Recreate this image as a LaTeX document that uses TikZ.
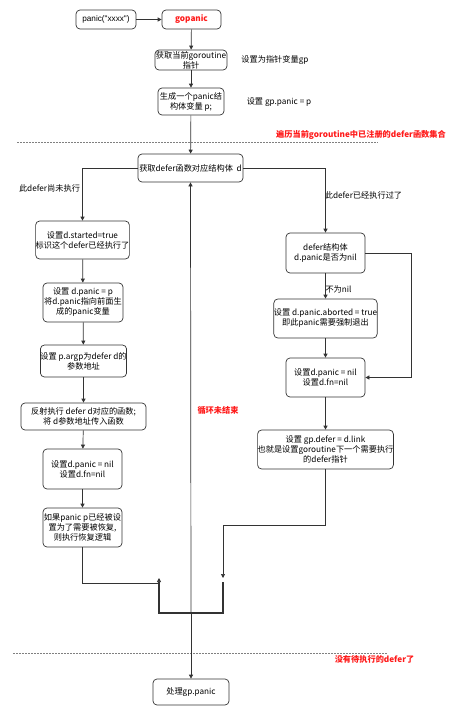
\documentclass[tikz,border=0pt]{standalone}
\usepackage{fontspec}
\setmainfont{Noto Sans CJK SC}
\newfontfamily\latinfont{Liberation Sans}
\usetikzlibrary{arrows.meta}
\definecolor{linegray}{HTML}{333333}
\definecolor{notered}{HTML}{FF1A1A}

\begin{document}
\begin{tikzpicture}[x=1pt,y=-1pt,
    font=\fontsize{8.2}{10}\selectfont,
    box/.style={draw=linegray, line width=0.7pt, rounded corners=4pt, align=center, inner sep=0pt},
    arrow/.style={draw=linegray, line width=0.7pt, -{Triangle[length=4pt,width=4pt]}},
    note/.style={text=notered, font=\fontsize{8.2}{10}\selectfont\bfseries},
    sep/.style={draw=gray, dash pattern=on 1.5pt off 1.5pt}]
            \useasboundingbox (0,0) rectangle (474,716);

            \node[box, minimum width=60, minimum height=19] (panic) at (106,19.5) {\latinfont panic(\symbol{34}xxxx\symbol{34})};
            \node[box, minimum width=59, minimum height=19] (gopanic) at (191.5,19.5) {\textcolor{notered}{\bfseries gopanic}};
            \node[box, minimum width=72, minimum height=20] (getgp) at (191,60) {获取当前goroutine\\指针};
            \node[box, minimum width=66, minimum height=27] (newp) at (191,101.5) {生成一个panic结\\构体变量 p;};
            \node (gpnote) at (275,60) {设置为指针变量gp};
            \node (pnote) at (279,102) {设置 gp.panic = p};

            % loop over the defer list
            \draw[sep] (17,142) -- (378,142);
            \node[note] (loopnote) at (361,135) {遍历当前goroutine中已注册的defer函数集合};
            \node[box, minimum width=105, minimum height=28] (getd) at (190.5,168) {获取defer函数对应结构体\ \ d};

            % left: defer not run yet
            \node (leftnote) at (49.5,188) {此defer尚未执行};
            \node[box, minimum width=91, minimum height=38] (started) at (82.5,240) {设置d.started=true\\标识这个defer已经执行了};
            \node[box, minimum width=80, minimum height=39] (setpanic) at (83,302.5) {设置 d.panic = p\\将d.panic指向前面生\\成的panic变量};
            \node[box, minimum width=85, minimum height=32] (argp) at (83.5,361) {设置 p.argp为defer d的\\参数地址};
            \node[box, minimum width=125, minimum height=27] (call) at (83.5,416.5) {反射执行 defer d对应的函数;\\将 d参数地址传入函数};
            \node[box, minimum width=79, minimum height=40] (nilleft) at (82.5,469) {设置d.panic = nil\\设置d.fn=nil};
            \node[box, minimum width=79, minimum height=39] (recover) at (82.5,527.5) {如果panic p已经被设\\置为了需要被恢复,\\则执行恢复逻辑};

            % right: defer already run
            \node (rightnote) at (363.5,195) {此defer已经执行过了};
            \node[box, minimum width=79, minimum height=40] (check) at (325.5,253) {defer结构体\\d.panic是否为nil};
            \node[box, minimum width=99, minimum height=39] (aborted) at (325.5,318.5) {设置 d.panic.aborted = true\\即此panic需要强制退出};
            \node[box, minimum width=79, minimum height=39] (nilright) at (325.5,377.5) {设置d.panic = nil\\设置d.fn=nil};
            \node[box, minimum width=131, minimum height=39] (link) at (325.5,449.5) {设置 gp.defer = d.link\\也就是设置goroutine下一个需要执行\\的defer指针};
            \node (notnil) at (338.5,289) {不为nil};

            \node[note] (againnote) at (218,410) {循环未结束};

            % end of the loop
            \draw[sep] (13,653) -- (387,653);
            \node[note] (endnote) at (374.5,659) {没有待执行的defer了};
            \node[box, minimum width=76, minimum height=26] (final) at (191,692) {处理gp.panic};

            \coordinate (jl) at (159,578);
            \coordinate (jr) at (223,578);
            \coordinate (bl) at (159,582);
            \coordinate (br) at (223,582);
            \coordinate (jm) at (191,613);
            \coordinate (bend) at (411,253);

            \draw[arrow] (panic) -- (gopanic);
            \draw[arrow] (gopanic) -- (getgp);
            \draw[arrow] (getgp) -- (newp);
            \draw[arrow] (newp) -- (getd);
            \draw[arrow] (getd.west) -| (started.north);
            \draw[arrow] (getd.east) -| (check.north);
            \draw[arrow] (started) -- (setpanic);
            \draw[arrow] (setpanic) -- (argp);
            \draw[arrow] (argp) -- (call);
            \draw[arrow] (call) -- (nilleft);
            \draw[arrow] (nilleft) -- (recover);
            \draw[arrow] (check) -- (aborted);
            \draw[arrow] (aborted) -- (nilright);
            \draw[arrow] (check.east) -- (bend) |- (nilright.east);
            \draw[arrow] (nilright) -- (link);
            \draw[arrow] (recover.south) -- ++(0,35.5) -| (jl);
            \draw[arrow] (link.south) -- ++(0,55.5) -| (jr);
            \draw[draw=linegray, line width=1.3pt] (bl) |- (jm) -| (br);
            \draw[arrow] (jm) -- (getd.south);
            \draw[arrow] (jm) -- (final.north);
\end{tikzpicture}
\end{document}
